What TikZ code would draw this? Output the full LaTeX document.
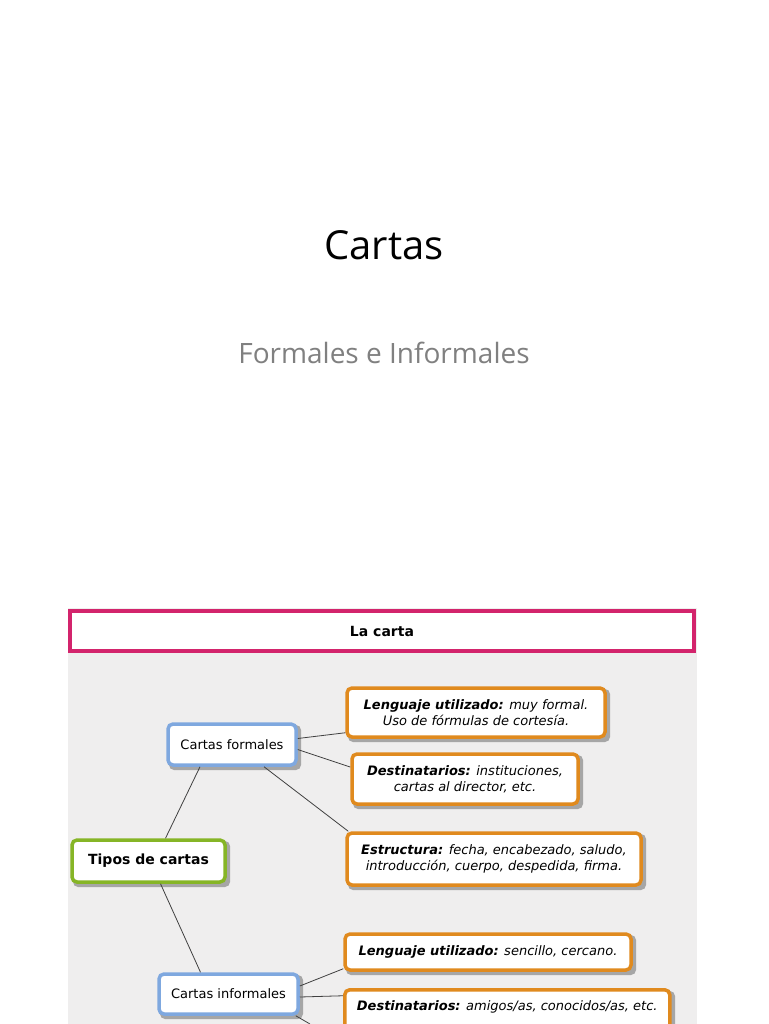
\documentclass[tikz,border=0pt]{standalone}
\usepackage{fontspec}
\setmainfont{DejaVu Sans}
\newfontfamily\titlefont{Open Sans}
\begin{document}
\begin{tikzpicture}[x=1pt,y=-1pt,
  bx/.style={rounded corners=5pt,line width=3.5pt,fill=white,align=center,inner sep=2pt,font=\fontsize{13}{16}\selectfont},
  orangebox/.style={bx,draw=boxorange},
  bluebox/.style={bx,draw=boxblue},
  greenbox/.style={bx,draw=boxgreen,font=\fontsize{14}{16}\selectfont\bfseries},
  link/.style={draw=black!75,line width=0.8pt}]
\definecolor{boxorange}{HTML}{E08A1E}
\definecolor{boxblue}{HTML}{7FA8DF}
\definecolor{boxgreen}{HTML}{86B526}
\definecolor{pinkb}{HTML}{D3246C}
\definecolor{bgg}{HTML}{EFEEEE}
\useasboundingbox (0,0) rectangle (768,1024);
\fill[white] (0,0) rectangle (768,1024);
\node[font=\titlefont\fontsize{40}{46}\selectfont] (title) at (384,245) {Cartas};
\node[font=\titlefont\fontsize{28}{32}\selectfont,text=black!50] (sub) at (384,353) {Formales e Informales};
\fill[bgg] (68,608) rectangle (697,1024);
\node[draw=pinkb,line width=3.5pt,fill=white,minimum width=624pt,minimum height=40pt,font=\fontsize{14}{16}\selectfont\bfseries] (head) at (382,631) {La carta};
% shadows
\foreach \a/\b/\c/\d in {166/722/298/767,345/686/607/739,350/752/580/806,345/831/643/887,70/838/227/884,343/932/633/972,157/972/300/1016,343/988/672/1040}
  \fill[black!35,rounded corners=5pt] (\a+3,\b+3) rectangle (\c+3,\d+3);
\node[bluebox,minimum width=128pt,minimum height=41pt] (cf) at (232,744.5) {Cartas formales};
\node[orangebox,minimum width=258pt,minimum height=49pt] (lf) at (476,712.5) {\textbf{\textit{Lenguaje utilizado:}} \textit{muy formal.}\\\textit{Uso de fórmulas de cortesía.}};
\node[orangebox,minimum width=226pt,minimum height=50pt] (df) at (465,779) {\textbf{\textit{Destinatarios:}} \textit{instituciones,}\\\textit{cartas al director, etc.}};
\node[orangebox,minimum width=294pt,minimum height=52pt] (ef) at (494,859) {\textbf{\textit{Estructura:}} \textit{fecha, encabezado, saludo,}\\\textit{introducción, cuerpo, despedida, firma.}};
\node[greenbox,minimum width=153pt,minimum height=42pt] (tc) at (148.5,861) {Tipos de cartas};
\node[orangebox,minimum width=286pt,minimum height=36pt] (li) at (488,952) {\textbf{\textit{Lenguaje utilizado:}} \textit{sencillo, cercano.}};
\node[bluebox,minimum width=139pt,minimum height=40pt] (ci) at (228.5,994) {Cartas informales};
\node[orangebox,minimum width=325pt,minimum height=48pt,anchor=north west] (di) at (343,988) {\textbf{\textit{Destinatarios:}} \textit{amigos/as, conocidos/as, etc.}\\ \phantom{x}};
\coordinate (ciend) at (310,1024);
\draw[link] ([xshift=-32pt]cf.south) -- ([xshift=17pt]tc.north);
\draw[link] ([xshift=12pt]tc.south) -- ([xshift=-28pt]ci.north);
\draw[link] ([yshift=6pt]cf.east) -- ([yshift=6pt]lf.south west);
\draw[link] ([yshift=-5pt]cf.east) -- ([yshift=12pt]df.west);
\draw[link] ([xshift=32pt]cf.south) -- ([xshift=3pt]ef.north west);
\draw[link] ([yshift=8pt]ci.east) -- ([yshift=3pt]li.south west);
\draw[link] ([yshift=-3pt]ci.east) -- ([yshift=18pt]di.west);
\draw[link] ([xshift=-4pt]ci.south east) -- (ciend);
\end{tikzpicture}
\end{document}
